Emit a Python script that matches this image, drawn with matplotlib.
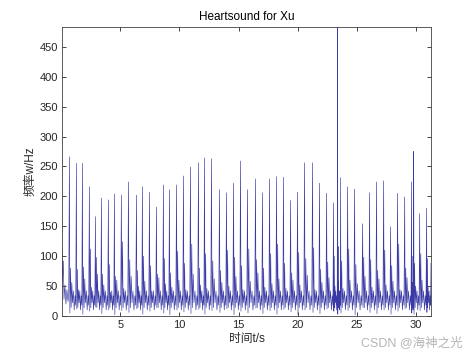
import matplotlib
matplotlib.use("Agg")
import matplotlib.pyplot as plt
import numpy as np

# ---- data ----
lead_t = [0.05, 0.10, 0.16, 0.22, 0.30, 0.38, 0.47, 0.56, 0.62]
lead_v = [110, 58, 92, 28, 52, 20, 44, 24, 38]

beat_t = [0.68, 1.27, 1.78, 2.37, 2.88, 3.39, 3.98, 4.49, 5.08, 5.68,
          6.36, 6.86, 7.46, 8.05, 8.64, 9.15, 9.75, 10.34, 10.93, 11.61,
          12.12, 12.71, 13.39, 13.98, 14.58, 15.17, 15.76, 16.44, 17.03, 17.63,
          18.22, 18.81, 19.41, 20.00, 20.59, 21.27, 21.86, 22.46, 23.05, 23.39,
          23.64, 24.24, 24.83, 25.51, 26.10, 26.69, 27.29, 27.88, 28.47, 29.07,
          29.66, 29.83, 30.34, 30.93]
beat_peak = [266, 255, 255, 216, 166, 197, 194, 204, 202, 224,
             202, 216, 207, 182, 219, 211, 219, 234, 249, 256,
             264, 263, 211, 206, 222, 259, 211, 229, 206, 229,
             233, 232, 193, 207, 256, 256, 222, 205, 189, 483,
             231, 216, 212, 154, 206, 224, 226, 149, 205, 199,
             224, 275, 171, 180]
beat_low = [5, 12, 3, 8, 15, 4, 10, 2, 9, 6,
            12, 3, 8, 14, 5, 2, 10, 7, 4, 11,
            3, 9, 6, 12, 2, 8, 5, 13, 4, 9,
            3, 11, 7, 2, 10, 6, 4, 12, 8, 3,
            5, 9, 2, 14, 6, 4, 10, 3, 8, 12,
            5, 3, 9, 6]
beat_m1 = [80, 78, 82, 112, 98, 70, 86, 66, 124, 94,
           76, 100, 84, 70, 96, 72, 108, 88, 120, 80,
           104, 92, 76, 110, 98, 84, 112, 94, 80, 104,
           120, 88, 72, 106, 96, 114, 78, 90, 100, 116,
           92, 112, 86, 98, 94, 76, 110, 84, 120, 80,
           100, 88, 104, 96]
beat_m2 = [56, 44, 62, 48, 70, 52, 40, 60, 46, 66,
           50, 58, 42, 64, 54, 48, 60, 44, 70, 52,
           46, 62, 56, 50, 66, 44, 58, 72, 48, 54,
           62, 46, 60, 52, 68, 44, 56, 64, 50, 58,
           46, 60, 54, 66, 48, 62, 52, 58, 44, 64,
           56, 50, 60, 48]
ripple_frac = [0.06, 0.16, 0.24, 0.34, 0.44, 0.56, 0.68, 0.80, 0.90]
ripple_val = [None, None, 14, None, 22, 42, 10, 34, 18]
t_end = 31.3
tail_v = 88

# ---- build the polyline ----
ts = list(lead_t)
vs = list(lead_v)
for i, t0 in enumerate(beat_t):
    t1 = beat_t[i + 1] if i + 1 < len(beat_t) else t_end
    dt = t1 - t0
    ts.append(t0)
    vs.append(beat_peak[i])
    for f, rv in zip(ripple_frac, ripple_val):
        ts.append(t0 + f * dt)
        if f == 0.06:
            vs.append(beat_low[i])
        elif f == 0.16:
            vs.append(beat_m1[i])
        elif f == 0.34:
            vs.append(beat_m2[i])
        else:
            vs.append(rv)
ts.append(t_end)
vs.append(tail_v)

plt.rcParams['font.family'] = ['Liberation Sans', 'Noto Sans CJK SC', 'DejaVu Sans']

fig = plt.figure(figsize=(4.74, 3.55), dpi=100)
ax = fig.add_axes([0.1308, 0.1099, 0.9093 - 0.1308, 0.9239 - 0.1099])
ax.plot(ts, vs, color='#3a3aa6', lw=0.45)
ax.set_xlim(0.05, t_end)
ax.set_ylim(0, 483)
ax.set_xticks([5, 10, 15, 20, 25, 30])
ax.set_yticks(np.arange(0, 451, 50))
ax.tick_params(direction='in', length=3, width=0.6, labelsize=8,
               colors='#262626', top=True, right=True, pad=3)
for s in ax.spines.values():
    s.set_color('#404040')
    s.set_linewidth(0.6)
ax.set_title('Heartsound for Xu', fontsize=8.5, color='#000000', pad=5)
ax.set_xlabel('时间t/s', fontsize=8.5, color='#262626', labelpad=2)
ax.set_ylabel('频率w/Hz', fontsize=8.5, color='#262626', labelpad=2)
fig.text(0.977, 0.035, 'CSDN @海神之光', fontsize=9, color='#b5b5b5',
         ha='right', va='center')
fig.savefig('out.png', dpi=100)
